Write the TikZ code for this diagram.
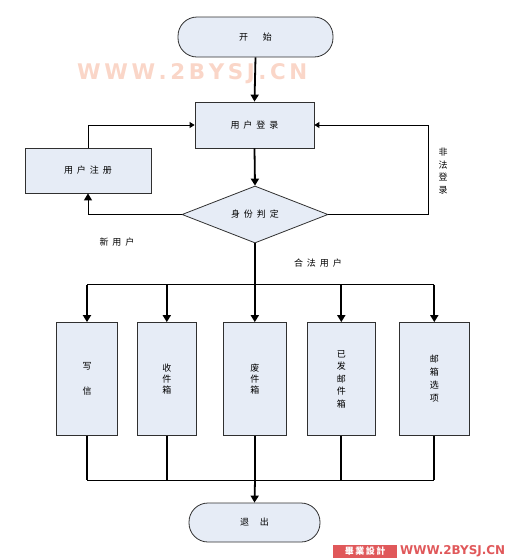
\documentclass[tikz,border=0pt]{standalone}
\usepackage{fontspec}
\usepackage{graphicx}
\newfontfamily\cjk{Noto Sans CJK SC}
\newfontfamily\wmfont{DejaVu Sans Bold}
\usetikzlibrary{arrows.meta,shapes.geometric}
\definecolor{boxfill}{HTML}{E6ECF6}
\definecolor{boxline}{HTML}{303030}
\definecolor{wmpink}{HTML}{FAD6C8}
\definecolor{logored}{HTML}{E0585A}
\newcommand{\gp}{\hspace{4pt}}
\tikzset{
  base/.style={draw=boxline, line width=0.8pt, fill=boxfill, inner sep=0pt,
    font=\cjk\fontsize{9}{12}\selectfont, align=center},
  term/.style={base, rounded corners=19pt},
  procbox/.style={base},
  decide/.style={base, diamond},
  lbl/.style={font=\cjk\fontsize{9}{12}\selectfont, align=center, inner sep=0pt},
  thin/.style={line width=1pt},
  thick/.style={line width=1.8pt},
  arr/.style={-{Triangle[width=8pt,length=7pt]}},
  sarr/.style={-{Triangle[width=6pt,length=5pt]}}
}
\begin{document}
\begin{tikzpicture}[x=1pt,y=-1pt]
\useasboundingbox (0,0) rectangle (507,558);
% watermark
\node[inner sep=0pt, text=wmpink, anchor=west] (wm) at (77,74)
  {\resizebox{230pt}{16pt}{\wmfont W\,W\,W\,.\,2\,B\,Y\,S\,J\,.\,C\,N}};
% nodes
\node[term, minimum width=155pt, minimum height=40pt] (start) at (255.5,37) {开\hspace{15pt}始};
\node[procbox, minimum width=119pt, minimum height=46pt] (login) at (254.5,125) {用\gp 户\gp 登\gp 录};
\node[procbox, minimum width=126pt, minimum height=45pt] (reg) at (88,170.5) {用\gp 户\gp 注\gp 册};
\node[decide, minimum width=146pt, minimum height=57pt] (dia) at (255,214.5) {身\gp 份\gp 判\gp 定};
\node[procbox, minimum width=61pt, minimum height=113pt] (b1) at (87,379) {写\\[13pt]信};
\node[procbox, minimum width=59pt, minimum height=113pt, font=\cjk\fontsize{9}{11}\selectfont] (b2) at (166.8,379) {收\\件\\箱};
\node[procbox, minimum width=63pt, minimum height=113pt, font=\cjk\fontsize{9}{11}\selectfont] (b3) at (254.8,379) {废\\件\\箱};
\node[procbox, minimum width=68pt, minimum height=113pt, font=\cjk\fontsize{9}{12.5}\selectfont] (b4) at (341.3,379) {已\\发\\邮\\件\\箱};
\node[procbox, minimum width=70pt, minimum height=113pt, font=\cjk\fontsize{9}{13}\selectfont] (b5) at (434.3,379) {邮\\箱\\选\\项};
\node[term, minimum width=131pt, minimum height=39pt] (exit) at (254.5,522.5) {退\hspace{11pt}出};
% labels
\node[lbl, font=\cjk\fontsize{9}{12.5}\selectfont] (illegal) at (443,171) {非\\法\\登\\录};
\node[lbl] (newu) at (117,242) {新\gp 用\gp 户};
\node[lbl] (legal) at (318,263) {合\gp 法\gp 用\gp 户};
% connectors
\draw[thick, arr] (start.south) -- (login.north);
\draw[thick, arr] (login.south) -- (dia.north);
\draw[thin, arr] (dia.west) -| (reg.south);
\draw[thin, sarr] (reg.north) |- (login.west);
\coordinate (rc) at (428,214.5);
\draw[thin, sarr] (dia.east) -- (rc) |- (login.east);
\coordinate (j1) at (255,284.5);
\draw[thick] (dia.south) -- (j1);
\draw[thin] (b1.north |- j1) -- (b5.north |- j1);
\foreach \b in {b1,b2,b3,b4,b5}{
  \draw[thick, arr] (\b.north |- j1) -- (\b.north);
}
\coordinate (j2) at (255,480);
\foreach \b in {b1,b2,b3,b4,b5}{
  \draw[thick] (\b.south) -- (\b.south |- j2);
}
\draw[thin] (b1.south |- j2) -- (b5.south |- j2);
\draw[thick, arr] (j2) -- (exit.north);
% logo
\node[fill=logored, text=white, inner sep=0pt, minimum width=64pt, minimum height=13pt, anchor=west,
  font=\cjk\bfseries\fontsize{9}{10}\selectfont] (logo) at (333,551) {畢\,業\,設\,計};
\node[text=logored, inner sep=0pt, anchor=west] (logourl) at (400,551)
  {\resizebox{105pt}{9pt}{\wmfont WWW.2BYSJ.CN}};
\end{tikzpicture}
\end{document}
